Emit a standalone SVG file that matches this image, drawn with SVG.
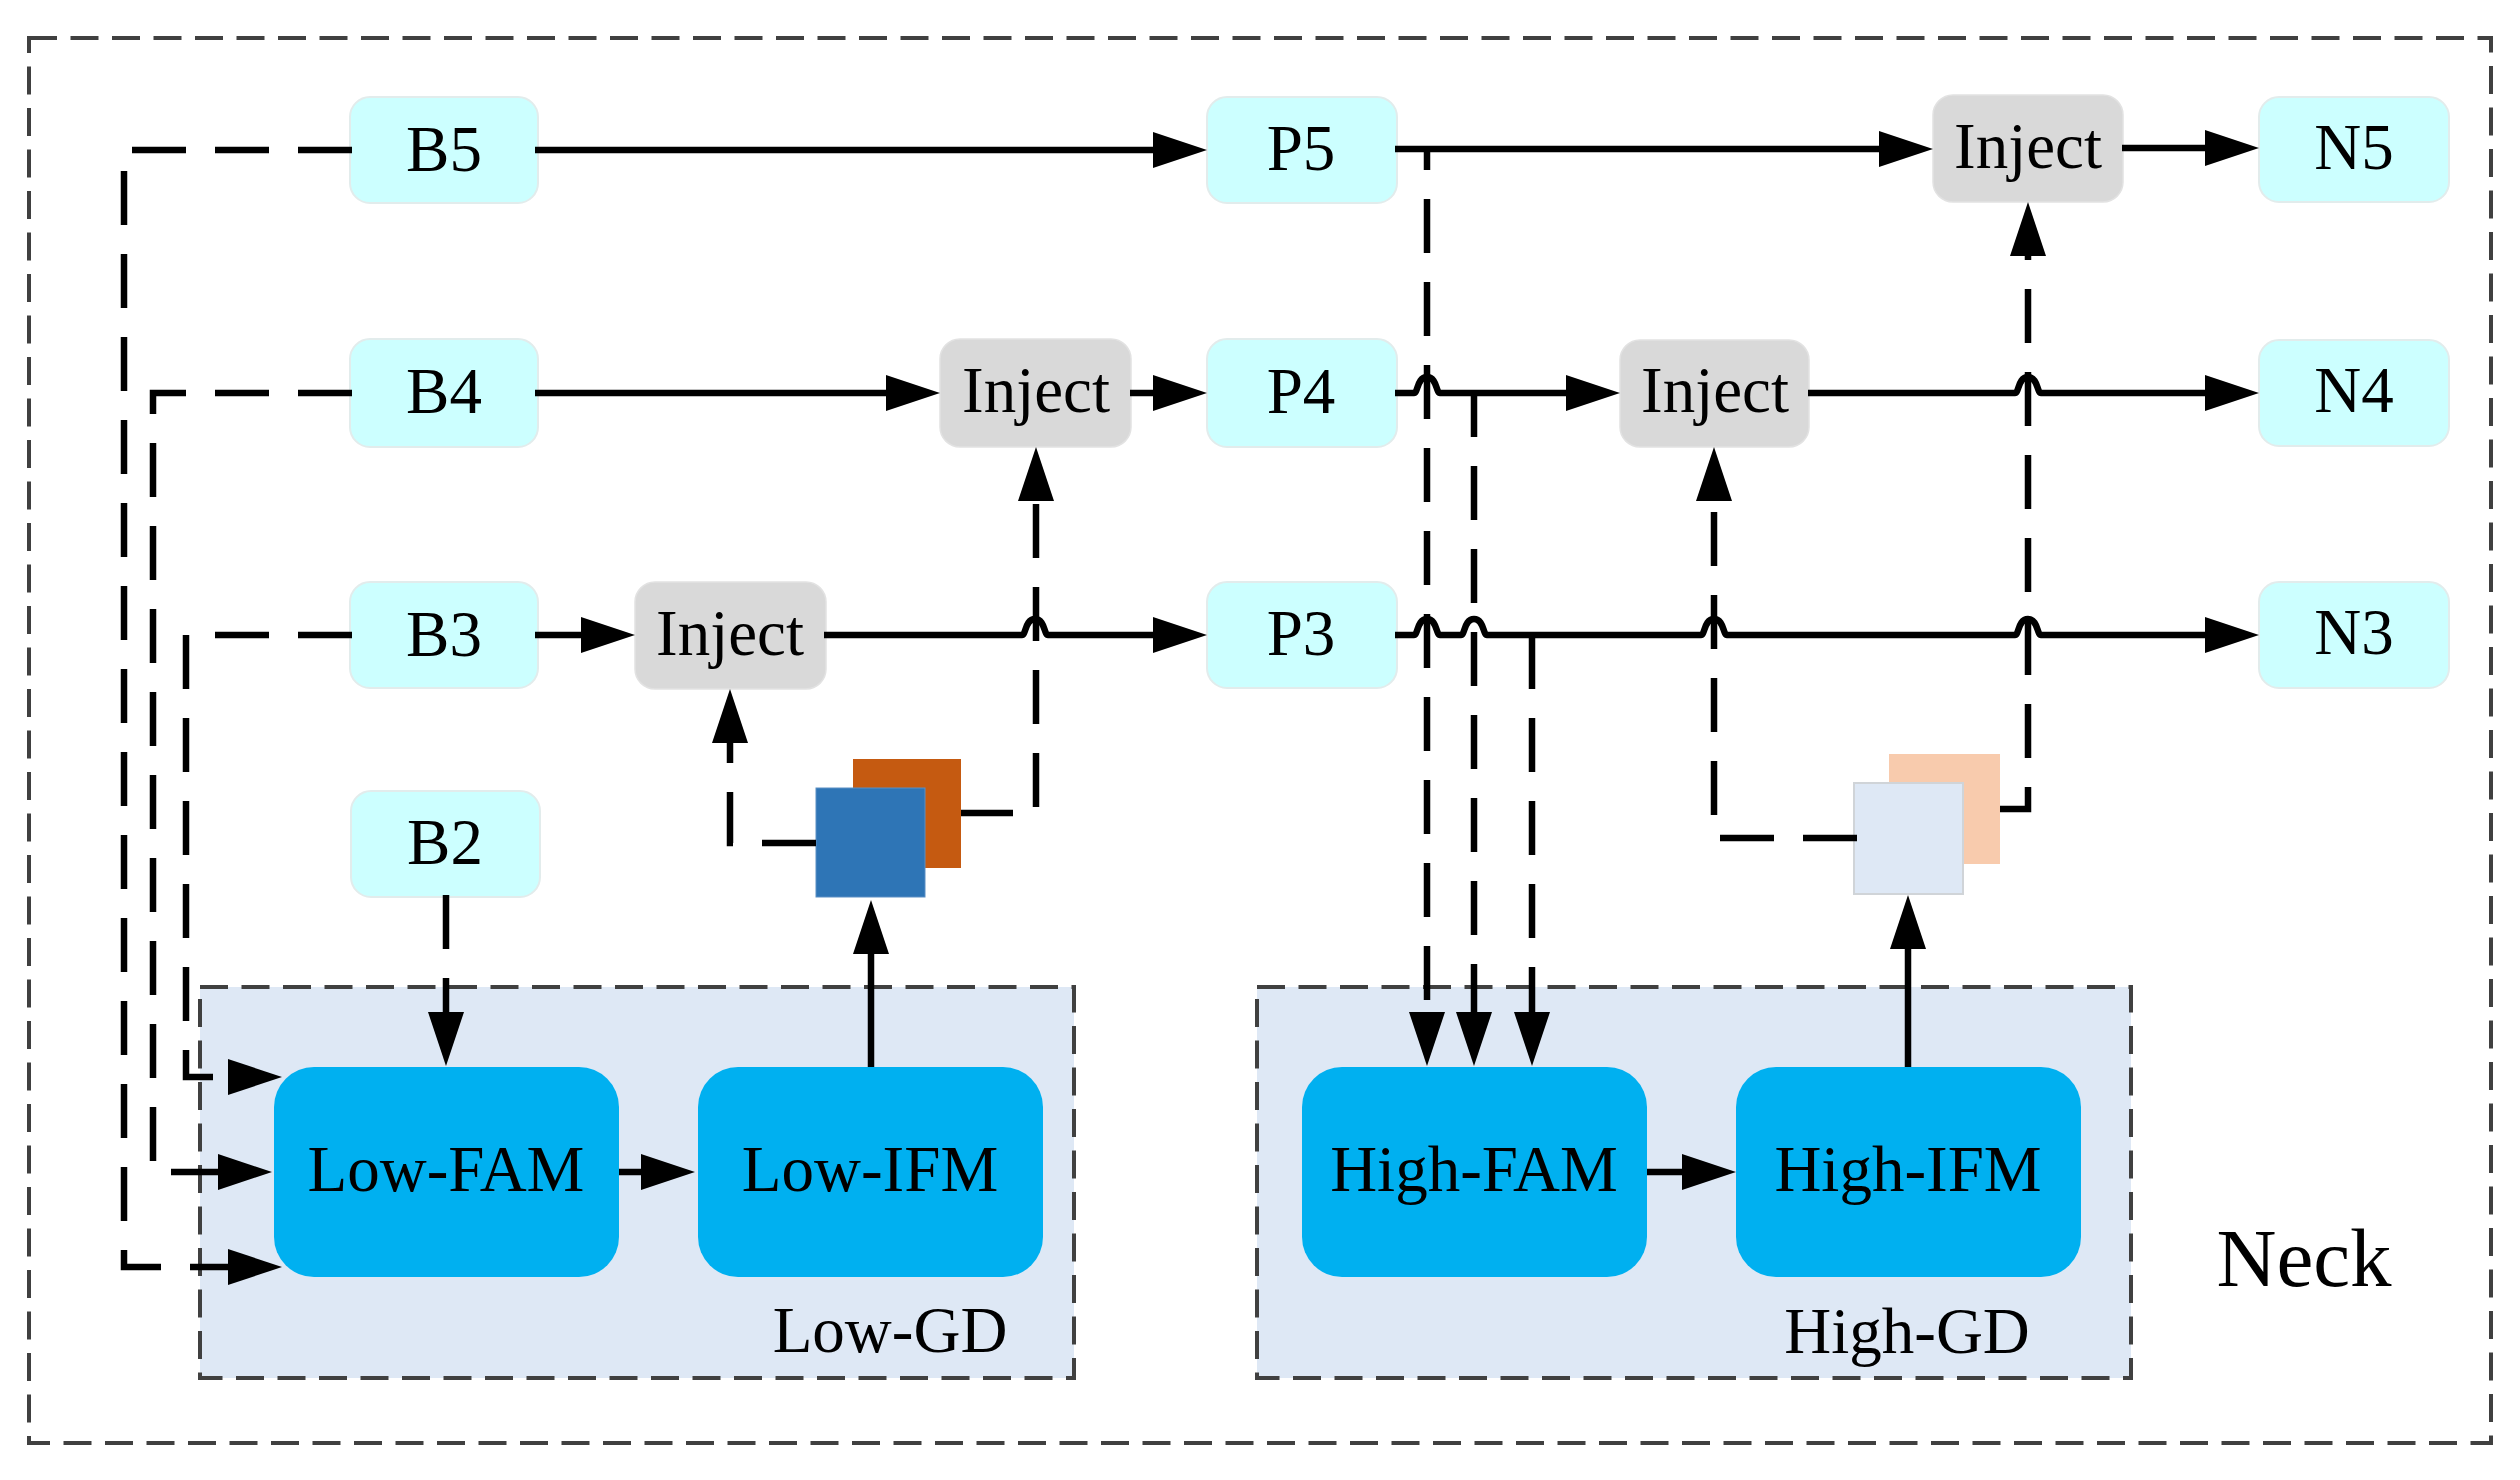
<svg xmlns="http://www.w3.org/2000/svg" width="2520" height="1480" viewBox="0 0 2520 1480">
<style>
text{font-family:"Liberation Serif","Times New Roman",serif;font-size:65px;fill:#000;text-anchor:middle}
.frame{fill:none;stroke:#404040;stroke-width:4;stroke-dasharray:28 13.5}
.region{fill:#dee8f5;stroke:#404040;stroke-width:4;stroke-dasharray:28 13.5}
.c{fill:#ccffff;stroke:#e2ecec;stroke-width:2}
.g{fill:#d9d9d9;stroke:#e2e2e2;stroke-width:1.5}
.m{fill:#00b0f0}
.s,.d{fill:none;stroke:#000;stroke-width:6.5}
.d{stroke-dasharray:54 29}
.a{marker-end:url(#head)}
</style>
<defs>
<marker id="head" markerUnits="userSpaceOnUse" markerWidth="54" markerHeight="36" viewBox="0 0 54 36" refX="0" refY="18" orient="auto" overflow="visible">
<polygon points="0,0 54,18 0,36" fill="#000"/>
</marker>
</defs>
<rect id="neck-frame" class="frame" x="29" y="38" width="2462" height="1405"/>
<g id="low-gd">
<rect class="region" x="200" y="987" width="874" height="391"/>
<text x="890" y="1352">Low-GD</text>
</g>
<g id="high-gd">
<rect class="region" x="1257" y="987" width="874" height="391"/>
<text x="1907" y="1353">High-GD</text>
</g>
<g id="B5"><rect class="c" x="350" y="97" width="188" height="106" rx="20"/><text x="444" y="171">B5</text></g>
<g id="B4"><rect class="c" x="350" y="339" width="188" height="108" rx="20"/><text x="444" y="413">B4</text></g>
<g id="B3"><rect class="c" x="350" y="582" width="188" height="106" rx="20"/><text x="444" y="656">B3</text></g>
<g id="B2"><rect class="c" x="351" y="791" width="189" height="106" rx="20"/><text x="445" y="864">B2</text></g>
<g id="P5"><rect class="c" x="1207" y="97" width="190" height="106" rx="20"/><text x="1301" y="170">P5</text></g>
<g id="P4"><rect class="c" x="1207" y="339" width="190" height="108" rx="20"/><text x="1301" y="413">P4</text></g>
<g id="P3"><rect class="c" x="1207" y="582" width="190" height="106" rx="20"/><text x="1301" y="655">P3</text></g>
<g id="N5"><rect class="c" x="2259" y="97" width="190" height="105" rx="20"/><text x="2354" y="169">N5</text></g>
<g id="N4"><rect class="c" x="2259" y="340" width="190" height="106" rx="20"/><text x="2354" y="412">N4</text></g>
<g id="N3"><rect class="c" x="2259" y="582" width="190" height="106" rx="20"/><text x="2354" y="654">N3</text></g>
<g id="inject-top"><rect class="g" x="1933" y="95" width="190" height="107" rx="20"/><text x="2028" y="168">Inject</text></g>
<g id="inject-mid-right"><rect class="g" x="1620" y="340" width="189" height="107" rx="20"/><text x="1715" y="412">Inject</text></g>
<g id="inject-mid-left"><rect class="g" x="940" y="339" width="191" height="108" rx="20"/><text x="1036" y="412">Inject</text></g>
<g id="inject-low"><rect class="g" x="635" y="582" width="191" height="107" rx="20"/><text x="730" y="655">Inject</text></g>
<g id="low-stack">
<rect x="853" y="759" width="108" height="109" fill="#c55a11"/>
<rect x="816" y="788" width="109" height="109" fill="#2e75b6" stroke="#5b8fc4" stroke-width="1"/>
</g>
<g id="high-stack">
<rect x="1889" y="754" width="111" height="110" fill="#f8cbad"/>
<rect x="1854" y="783" width="109" height="111" fill="#dee8f5" stroke="#d0d4d8" stroke-width="2"/>
</g>
<g id="Low-FAM"><rect class="m" x="274" y="1067" width="345" height="210" rx="40"/><text x="446" y="1191">Low-FAM</text></g>
<g id="Low-IFM"><rect class="m" x="698" y="1067" width="345" height="210" rx="40"/><text x="870" y="1191">Low-IFM</text></g>
<g id="High-FAM"><rect class="m" x="1302" y="1067" width="345" height="210" rx="40"/><text x="1474" y="1191">High-FAM</text></g>
<g id="High-IFM"><rect class="m" x="1736" y="1067" width="345" height="210" rx="40"/><text x="1908" y="1191">High-IFM</text></g>
<text x="2304" y="1286" style="font-size:83px">Neck</text>
<g id="connectors">
<path class="s a" d="M535,150 H1153"/>
<path class="s a" d="M1395,149 H1879"/>
<path class="s a" d="M2122,148 H2205"/>
<path class="s a" d="M535,393 H886"/>
<path class="s a" d="M1130,393 H1153"/>
<path class="s a" d="M1395,393 H1414 C1418,393 1417,377 1427,377 C1437,377 1436,393 1440,393 H1566"/>
<path class="s a" d="M1808,393 H2015 C2019,393 2018,377 2028,377 C2038,377 2037,393 2041,393 H2205"/>
<path class="s a" d="M535,635 H581"/>
<path class="s a" d="M824,635 H1022 C1026,635 1025,619 1035,619 C1045,619 1044,635 1048,635 H1153"/>
<path class="s a" d="M1395,635 H1414 C1418,635 1417,619 1427,619 C1437,619 1436,635 1440,635 H1461 C1465,635 1464,619 1474,619 C1484,619 1483,635 1487,635 H1701 C1705,635 1704,619 1714,619 C1724,619 1723,635 1727,635 H2015 C2019,635 2018,619 2028,619 C2038,619 2037,635 2041,635 H2205"/>
<path class="d a" d="M352,150 H124 V1267 H228"/>
<path class="d a" d="M352,393 H153 V1172 H218"/>
<path class="d a" d="M352,635 H186 V1077 H228"/>
<path class="d a" d="M446,895 V1012"/>
<path class="s a" d="M871,1067 V954"/>
<path class="s a" d="M619,1172 H641"/>
<path class="d a" d="M961,813 H1036 V501" stroke-dashoffset="2"/>
<path class="d a" d="M816,843 H730 V743"/>
<path class="d a" d="M1427,150 V1012" stroke-dashoffset="34"/>
<path class="d a" d="M1474,393 V1012" stroke-dashoffset="10"/>
<path class="d a" d="M1532,635 V1012"/>
<path class="s a" d="M1908,1067 V949"/>
<path class="s a" d="M1647,1172 H1682"/>
<path class="d a" d="M1857,838 H1714 V501"/>
<path class="d a" d="M2000,809 H2028 V256" stroke-dashoffset="4"/>
</g>
</svg>
